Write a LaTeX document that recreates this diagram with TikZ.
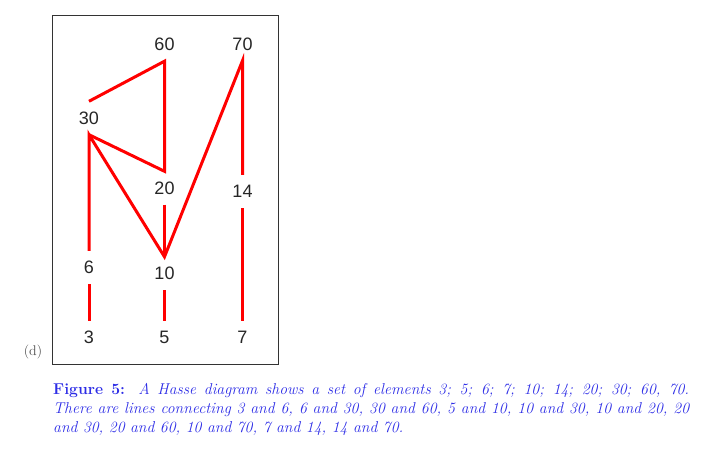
\documentclass[tikz,border=0pt]{standalone}
\usepackage{fontspec}
\newfontfamily\labelfont{Liberation Sans}

\definecolor{hasseRed}{RGB}{255,0,0}
\definecolor{captionBlue}{RGB}{45,45,230}

\begin{document}
\begin{tikzpicture}[x=1pt,y=-1pt,
	vertex/.style={font=\labelfont\fontsize{18}{18}\selectfont, text=black!85,
		inner sep=0pt, minimum height=33pt},
	edge/.style={draw=hasseRed, line width=3pt, line join=miter}]

\useasboundingbox (0,0) rectangle (703,448);

\draw [line width=0.9pt, black!80] (52,15) rectangle (278,364);
\node [font=\fontsize{14}{16}\selectfont, text=black!70] (sub) at (33,352) {(d)};

\foreach \n/\x/\y in {
	3/89/337.5, 5/164.5/337.5, 7/242.5/337.5,
	6/89/267.5, 10/164.5/273.5, 14/242.5/191.5,
	20/164.5/188, 30/89/118,
	60/164.5/44.5, 70/242.5/44
} {
	\node [vertex] (n\n) at (\x,\y) {\n};
}

\draw [edge] (n6.north) -- (n30.south) -- (n10.north) -- (n70.south) -- (n14.north);
\draw [edge] (n30.south) -- (n20.north) -- (n60.south) -- (n30.north);
\draw [edge] (n20.south) -- (n10.north);

\draw [edge] (n3.north) -- (n6.south);
\draw [edge] (n5.north) -- (n10.south);
\draw [edge] (n7.north) -- (n14.south);

\node [anchor=base west, text width=636pt, align=justify, inner sep=0pt,
	text=captionBlue, font=\fontsize{15.7}{19}\selectfont] (caption) at (53,394.5)
	{\textbf{Figure 5:}\ \ \itshape A Hasse diagram shows a set of elements 3; 5; 6; 7; 10; 14; 20; 30; 60, 70.\linebreak
	There are lines connecting 3 and 6, 6 and 30, 30 and 60, 5 and 10, 10 and 30, 10 and 20, 20\linebreak
	and 30, 20 and 60, 10 and 70, 7 and 14, 14 and 70.};

\end{tikzpicture}
\end{document}
